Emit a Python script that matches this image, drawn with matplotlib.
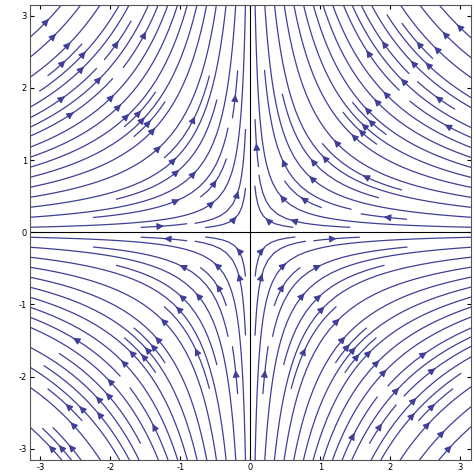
import numpy as np
import matplotlib
matplotlib.use("Agg")
import matplotlib.pyplot as plt

ticks = [-3, -2, -1, 0, 1, 2, 3]
tick_labels = ["-3", "-2", "-1", "0", "1", "2", "3"]

x = np.linspace(-3.2, 3.2, 200)
y = np.linspace(-3.2, 3.2, 200)
X, Y = np.meshgrid(x, y)
U = -X * Y
V = Y ** 2
speed = np.hypot(U, V) + 1e-9

fig = plt.figure(figsize=(4.74, 4.74), dpi=100)
ax = fig.add_axes([0.063, 0.03, 0.93, 0.96])
ax.streamplot(X, Y, U / speed, V / speed, color="#3f3f98", density=1.6,
              linewidth=0.9, arrowsize=1.0, broken_streamlines=True)
ax.axhline(0, color="black", lw=0.8)
ax.axvline(0, color="black", lw=0.8)
ax.set_xlim(-3.15, 3.15)
ax.set_ylim(-3.15, 3.15)
ax.set_xticks(ticks)
ax.set_xticklabels(tick_labels, fontsize=6)
ax.set_yticks(ticks)
ax.set_yticklabels(tick_labels, fontsize=6)
ax.tick_params(direction="in", length=3, top=True, right=True, pad=2)
for s in ax.spines.values():
    s.set_color("#555555")
fig.savefig("out.png", dpi=100)
